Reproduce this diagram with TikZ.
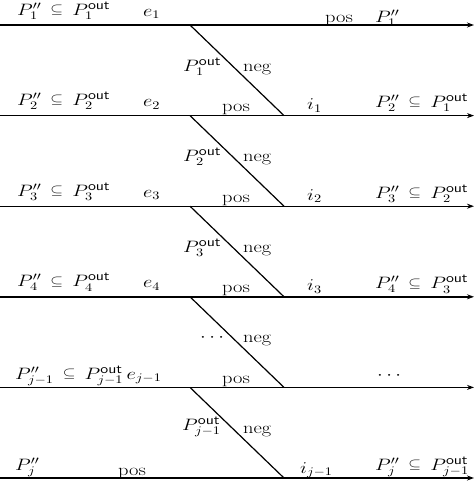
\RequirePackage{fix-cm}
\documentclass[tikz,border=0pt]{standalone}
\usepackage{amsmath,amssymb}
\usetikzlibrary{arrows.meta}
\newcommand\ou{\mbox{\fontsize{13}{13}\selectfont\sffamily out}}
\newcommand\sbs{\mathrel{\,\raisebox{1.8pt}{\scalebox{0.8}{$\subseteq$}}\,}}
\newcommand\W[1]{\scalebox{1.24}[1]{#1}}
\begin{document}
\begin{tikzpicture}[x=1pt,y=-1pt,
  lbl/.style={anchor=base west,inner sep=0pt,font=\fontsize{16.5}{20}\selectfont},
  hline/.style={line width=1.4pt,-{Stealth[length=7pt,width=5pt]}},
  dline/.style={line width=1.2pt}]
\useasboundingbox (0,0) rectangle (474,482);
% horizontal line coordinates
\foreach \k/\y in {1/25,2/115.6,3/206.2,4/296.8,5/387.4,6/478}{
  \coordinate (l\k) at (0,\y);
  \coordinate (r\k) at (474,\y);
  \coordinate (d\k) at (190,\y);
  \coordinate (c\k) at (284,\y);
}
\foreach \k in {1,...,6}{ \draw[hline] (l\k) -- (r\k); }
\foreach \k/\n in {1/2,2/3,3/4,4/5,5/6}{ \draw[dline] (d\k) -- (c\n); }
% line 1
\node[lbl] (a1) at (17,15) {\W{$P''_1\sbs P_1^{\ou}$}};
\node[lbl] (e1) at (143,16) {\W{$e_1$}};
\node[lbl] (p1) at (325,22) {\W{pos}};
\node[lbl] (b1) at (375,22) {\W{$P''_1$}};
% diagonal 1 labels
\node[lbl] (q1) at (183,71) {\W{$P_1^{\ou}$}};
\node[lbl] (n1) at (243,71) {\W{neg}};
% line 2
\node[lbl] (a2) at (17,105.6) {\W{$P''_2\sbs P_2^{\ou}$}};
\node[lbl] (e2) at (143,106.6) {\W{$e_2$}};
\node[lbl] (p2) at (222,111.6) {\W{pos}};
\node[lbl] (i1) at (307,109.6) {\W{$i_1$}};
\node[lbl] (b2) at (375,107.6) {\W{$P''_2\sbs P_1^{\ou}$}};
\node[lbl] (q2) at (183,161.6) {\W{$P_2^{\ou}$}};
\node[lbl] (n2) at (243,161.6) {\W{neg}};
% line 3
\node[lbl] (a3) at (17,196.2) {\W{$P''_3\sbs P_3^{\ou}$}};
\node[lbl] (e3) at (143,197.2) {\W{$e_3$}};
\node[lbl] (p3) at (222,202.2) {\W{pos}};
\node[lbl] (i2) at (307,200.2) {\W{$i_2$}};
\node[lbl] (b3) at (375,198.2) {\W{$P''_3\sbs P_2^{\ou}$}};
\node[lbl] (q3) at (183,252.2) {\W{$P_3^{\ou}$}};
\node[lbl] (n3) at (243,252.2) {\W{neg}};
% line 4
\node[lbl] (a4) at (17,286.8) {\W{$P''_4\sbs P_4^{\ou}$}};
\node[lbl] (e4) at (143,287.8) {\W{$e_4$}};
\node[lbl] (p4) at (222,292.8) {\W{pos}};
\node[lbl] (i3) at (307,290.8) {\W{$i_3$}};
\node[lbl] (b4) at (375,288.8) {\W{$P''_4\sbs P_3^{\ou}$}};
\node[lbl] (q4) at (200,341) {\W{$\cdots$}};
\node[lbl] (n4) at (243,342.8) {\W{neg}};
% line 5
\node[lbl] (a5) at (15,379.4) {\W{$P''_{j-1}\sbs P_{j-1}^{\ou}\,e_{j-1}$}};
\node[lbl] (p5) at (222,383.4) {\W{pos}};
\node[lbl] (b5) at (377,379.4) {\W{$\cdots$}};
\node[lbl] (q5) at (182,430.4) {\W{$P_{j-1}^{\ou}$}};
\node[lbl] (n5) at (243,433.4) {\W{neg}};
% line 6
\node[lbl] (a6) at (15,470) {\W{$P''_j$}};
\node[lbl] (p6) at (118,475) {\W{pos}};
\node[lbl] (i5) at (300,473) {\W{$i_{j-1}$}};
\node[lbl] (b6) at (375,470) {\W{$P''_j\sbs P_{j-1}^{\ou}$}};
\end{tikzpicture}
\end{document}
